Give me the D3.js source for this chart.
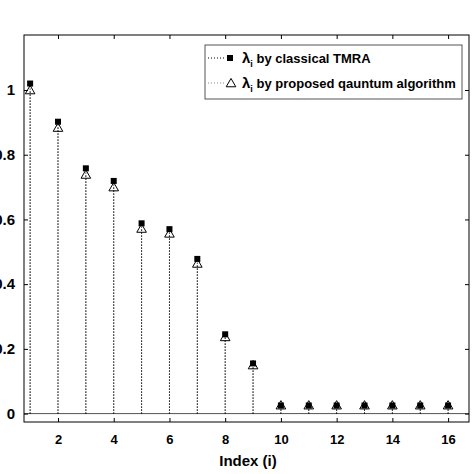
<!DOCTYPE html>
<html><head><meta charset="utf-8">
<script src="https://cdn.jsdelivr.net/npm/d3@7"></script>
<style>body{margin:0;background:#fff}svg{display:block}</style>
</head><body><svg id="c" width="474" height="474"></svg>
<script>
const indices = [1,2,3,4,5,6,7,8,9,10,11,12,13,14,15,16];
const classicalTMRA = [1.02,0.902,0.758,0.719,0.588,0.570,0.478,0.245,0.155,0.025,0.025,0.025,0.025,0.025,0.025,0.025];
const quantumAlg = [1.0,0.884,0.739,0.70,0.572,0.557,0.464,0.237,0.150,0.026,0.026,0.026,0.026,0.026,0.026,0.026];
const xTicks = [2,4,6,8,10,12,14,16];
const yTicks = [0,0.2,0.4,0.6,0.8,1];
const yTickLabels = ["0","0.2","0.4","0.6","0.8","1"];
const legendLabels = ["by classical TMRA","by proposed qauntum algorithm"];

const svg = d3.select("#c");
const L=24,R=469,T=35,B=422;
const x = d3.scaleLinear().domain([0.78,16.75]).range([L,R]);
const y = d3.scaleLinear().domain([-0.026,1.17]).range([B,T]);
const font = "'Liberation Sans', Arial, sans-serif";

// baseline
svg.append("line").attr("x1",L).attr("x2",R).attr("y1",y(0)).attr("y2",y(0))
  .attr("stroke","#555").attr("stroke-width",1);

// stems
[classicalTMRA, quantumAlg].forEach(s=>{
  svg.append("g").selectAll("line").data(indices).join("line")
    .attr("x1",d=>x(d)).attr("x2",d=>x(d))
    .attr("y1",y(0)).attr("y2",(d,i)=>y(s[i]))
    .attr("stroke","#000").attr("stroke-width",1).attr("stroke-dasharray","1,2");
});

// squares
const sq = 6;
svg.append("g").selectAll("rect").data(indices).join("rect")
  .attr("x",d=>x(d)-sq/2).attr("y",(d,i)=>y(classicalTMRA[i])-sq/2)
  .attr("width",sq).attr("height",sq).attr("fill","#000");

// triangles
const tri = d3.symbol().type(d3.symbolTriangle).size(40);
svg.append("g").selectAll("path").data(indices).join("path")
  .attr("d",tri)
  .attr("transform",(d,i)=>`translate(${x(d)},${y(quantumAlg[i])+1})`)
  .attr("fill","none").attr("stroke","#000").attr("stroke-width",1);

// box
svg.append("rect").attr("x",L).attr("y",T).attr("width",R-L).attr("height",B-T)
  .attr("fill","none").attr("stroke","#000").attr("stroke-width",1);

// axes
const tl = 4;
const xb = svg.append("g").attr("transform",`translate(0,${B})`)
  .call(d3.axisBottom(x).tickValues(xTicks).tickSizeInner(-tl).tickSizeOuter(0).tickPadding(13));
const xt = svg.append("g").attr("transform",`translate(0,${T})`)
  .call(d3.axisTop(x).tickValues(xTicks).tickSizeInner(-tl).tickSizeOuter(0).tickFormat(""));
const yl = svg.append("g").attr("transform",`translate(${L},0)`)
  .call(d3.axisLeft(y).tickValues(yTicks).tickSizeInner(-tl).tickSizeOuter(0).tickPadding(9)
    .tickFormat((d,i)=>yTickLabels[i]));
const yr = svg.append("g").attr("transform",`translate(${R},0)`)
  .call(d3.axisRight(y).tickValues(yTicks).tickSizeInner(-tl).tickSizeOuter(0).tickFormat(""));
[xb,xt,yl,yr].forEach(g=>{
  g.select(".domain").remove();
  g.selectAll("line").attr("stroke","#000");
  g.selectAll("text").attr("font-family",font).attr("font-weight","bold").attr("fill","#000");
});
xb.selectAll("text").attr("font-size",13);
yl.selectAll("text").attr("font-size",15);

// x label
svg.append("text").attr("x",248).attr("y",466).attr("text-anchor","middle")
  .attr("font-family",font).attr("font-size",15).attr("font-weight","bold").text("Index (i)");

// legend
const lg = svg.append("g");
lg.append("rect").attr("x",205).attr("y",45).attr("width",257).attr("height",54)
  .attr("fill","#fff").attr("stroke","#555").attr("stroke-width",1);
const rows = [58,83];
rows.forEach((ry,k)=>{
  lg.append("line").attr("x1",208).attr("x2",226).attr("y1",ry).attr("y2",ry)
    .attr("stroke",k===0?"#000":"#888").attr("stroke-dasharray","1,2");
  if(k===0) lg.append("rect").attr("x",227).attr("y",ry-3).attr("width",6).attr("height",6).attr("fill","#000");
  else lg.append("path").attr("d",tri).attr("transform",`translate(231,${ry+1})`).attr("fill","none").attr("stroke","#000");
  const t = lg.append("text").attr("x",242).attr("y",ry+5).attr("font-family",font)
    .attr("font-size",13).attr("font-weight","bold");
  t.append("tspan").attr("font-size",15).text("λ");
  t.append("tspan").attr("font-size",9).attr("dy",4).text("i");
  t.append("tspan").attr("dy",-4).text(" "+legendLabels[k]);
});
</script></body></html>
